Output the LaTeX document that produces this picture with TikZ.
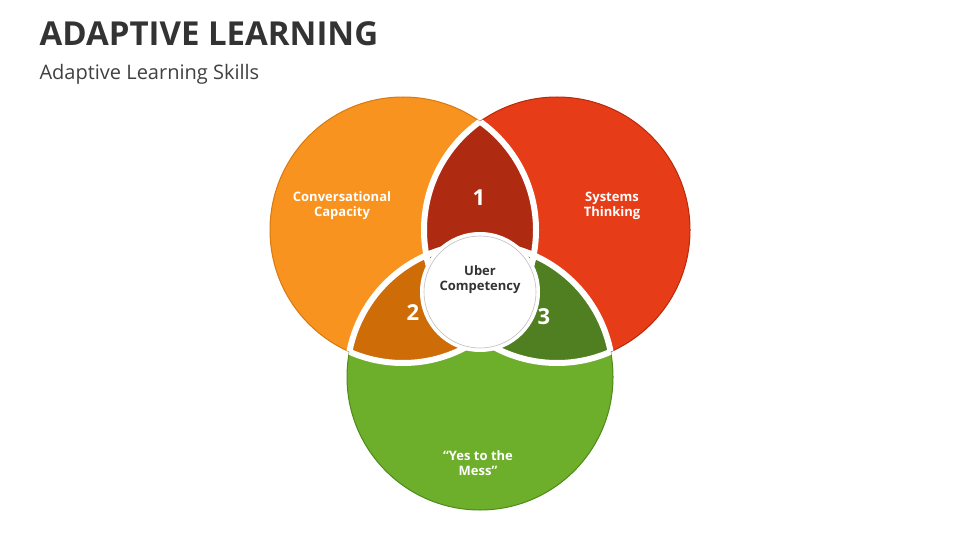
\documentclass[tikz,border=0pt]{standalone}
\usepackage{fontspec}
\setmainfont{Open Sans}
\begin{document}
\begin{tikzpicture}[x=1pt,y=-1pt,
  lbl/.style={font=\fontsize{13}{15}\selectfont\bfseries, align=center, text=white},
  num/.style={font=\fontsize{22}{24}\selectfont\bfseries, text=white},
  gap/.style={draw=white, line width=6pt}]
\useasboundingbox (0,0) rectangle (960,540);
\definecolor{cor}{HTML}{F7931E}\definecolor{corD}{HTML}{D87A10}
\definecolor{cred}{HTML}{E63C17}\definecolor{credD}{HTML}{B82A0C}
\definecolor{cgr}{HTML}{6DAE2B}\definecolor{cgrD}{HTML}{4F8A1A}
\definecolor{cl1}{HTML}{AE2B12}\definecolor{cl2}{HTML}{CE6D08}\definecolor{cl3}{HTML}{4F7F21}
\def\O{(403,230) circle (133)}
\def\R{(557,230) circle (133)}
\def\G{(480,377) circle (133)}
\node[anchor=west, font=\fontsize{33}{36}\selectfont\bfseries, text=black!80] (title) at (36,34) {ADAPTIVE LEARNING};
\node[anchor=west, font=\fontsize{20}{22}\selectfont, text=black!75] (sub) at (36,74) {Adaptive Learning Skills};
% circles
\fill[cor, draw=corD, line width=1pt] \O;
\fill[cred, draw=credD, line width=1pt] \R;
\fill[cgr, draw=cgrD, line width=1pt] \G;
% lenses
\begin{scope}\clip \O; \fill[cl1] \R; \end{scope}
\begin{scope}\clip \O; \fill[cl2] \G; \end{scope}
\begin{scope}\clip \R; \fill[cl3] \G; \end{scope}
% gaps
\begin{scope}\clip \O; \draw[gap] \R; \draw[gap] \G; \end{scope}
\begin{scope}\clip \R; \draw[gap] \O; \draw[gap] \G; \end{scope}
\begin{scope}\clip \G; \draw[gap] \O; \draw[gap] \R; \end{scope}
% center
\fill[white] (480,292) circle (60);
\draw[black!25, line width=0.6pt] (480,292) circle (56);
\node[lbl, text=black!80] (uber) at (480,280) {Uber\\Competency};
\node[lbl] (cc) at (342,206) {Conversational\\Capacity};
\node[lbl] (st) at (612,206) {Systems\\Thinking};
\node[lbl] (ym) at (478,463) {“Yes to the\\Mess”};
\node[num] (n1) at (479,198) {1};
\node[num] (n2) at (413,313) {2};
\node[num] (n3) at (544,317) {3};
\end{tikzpicture}
\end{document}
